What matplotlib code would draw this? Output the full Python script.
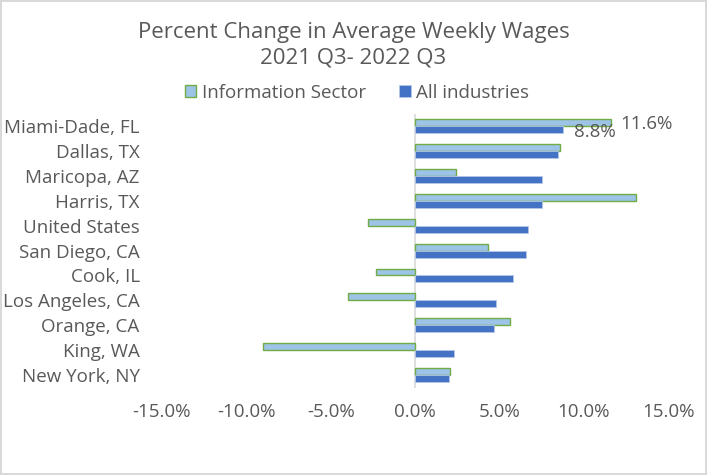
import matplotlib.pyplot as plt
import numpy as np

plt.rcParams['font.family'] = ['Open Sans', 'DejaVu Sans']

counties = ['Miami-Dade, FL', 'Dallas, TX', 'Maricopa, AZ', 'Harris, TX', 'United States',
            'San Diego, CA', 'Cook, IL', 'Los Angeles, CA', 'Orange, CA', 'King, WA', 'New York, NY']
info_sector = [11.6, 8.6, 2.4, 13.1, -2.8, 4.3, -2.3, -4.0, 5.6, -9.0, 2.1]
all_industries = [8.8, 8.5, 7.5, 7.5, 6.7, 6.6, 5.8, 4.8, 4.7, 2.3, 2.0]
xticks = [-15, -10, -5, 0, 5, 10, 15]

txt = '#595959'
fs = 13.5
fig = plt.figure(figsize=(7.07, 4.75), dpi=100)
fig.patch.set_edgecolor('#d9d9d9')
fig.patch.set_linewidth(1.5)
ax = fig.add_axes([0.229, 0.184, 0.716, 0.577])

y = np.arange(len(counties))
h = 0.28
ax.barh(y - h/2, info_sector, height=h, color='#9DC3E6', edgecolor='#70AD47', lw=1,
        label='Information Sector', zorder=2)
ax.barh(y + h/2, all_industries, height=h, color='#4472C4', edgecolor='#B4C7E7', lw=0.6,
        label='All industries', zorder=2)

# data labels for Miami-Dade only
ax.text(info_sector[0] + 0.55, 0 - h/2 + 0.05, '{:.1f}%'.format(info_sector[0]), color=txt,
        fontsize=fs, va='center', ha='left')
ax.text(all_industries[0] + 0.65, 0 + h/2 + 0.1, '{:.1f}%'.format(all_industries[0]), color=txt,
        fontsize=fs, va='center', ha='left')

ax.set_xlim(-15, 15)
ax.set_ylim(len(counties) - 0.5, -0.5)
ax.set_yticks(y)
ax.set_yticklabels(counties, fontsize=fs, color=txt)
ax.set_xticks(xticks)
ax.set_xticklabels(['{:.1f}%'.format(v) for v in xticks], fontsize=fs, color=txt)
ax.tick_params(length=0)
ax.tick_params(axis='x', pad=11)
ax.tick_params(axis='y', pad=16)
for s in ax.spines.values():
    s.set_visible(False)
ax.axvline(0, color='#d9d9d9', lw=1.2, zorder=1)

fig.text(0.5, 0.932, 'Percent Change in Average Weekly Wages', ha='center', va='center',
         fontsize=16, color=txt)
fig.text(0.5, 0.877, '2021 Q3- 2022 Q3', ha='center', va='center', fontsize=16, color=txt)
fig.legend(loc='center', bbox_to_anchor=(0.505, 0.805), ncol=2, frameon=False, fontsize=fs,
           labelcolor=txt, handlelength=0.6, handleheight=0.6, columnspacing=1.8,
           handletextpad=0.3)

fig.savefig('out.png', dpi=100)
